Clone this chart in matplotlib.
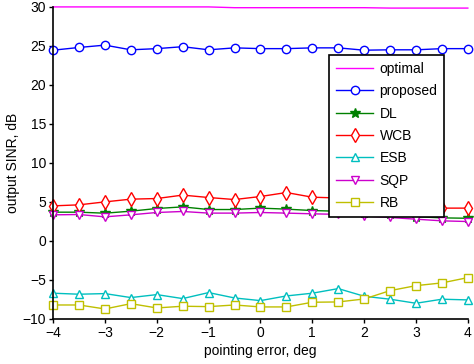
import numpy as np
import matplotlib
matplotlib.use("Agg")
import matplotlib.pyplot as plt

plt.rcParams['font.family'] = ['Liberation Sans', 'DejaVu Sans']

# pointing error, deg
err = [-4, -3.5, -3, -2.5, -2, -1.5, -1, -0.5, 0, 0.5, 1, 1.5, 2, 2.5, 3, 3.5, 4]

optimal = [30.0, 30.0, 30.0, 30.0, 30.0, 30.0, 30.0, 29.9, 29.9, 29.9, 29.9, 29.9, 29.9, 29.85, 29.85, 29.85, 29.85]
proposed = [24.45, 24.8, 25.1, 24.5, 24.65, 24.9, 24.5, 24.75, 24.65, 24.65, 24.75, 24.75, 24.45, 24.5, 24.5, 24.65, 24.65]
dl = [3.68, 3.68, 3.55, 3.81, 4.15, 4.36, 4.02, 4.02, 4.2, 4.07, 3.89, 3.8, 3.6, 3.4, 3.1, 2.95, 2.9]
wcb = [4.49, 4.62, 5.0, 5.35, 5.43, 5.87, 5.56, 5.3, 5.69, 6.2, 5.6, 5.5, 5.3, 4.9, 4.5, 4.2, 4.2]
esb = [-6.71, -6.84, -6.76, -7.27, -6.89, -7.4, -6.63, -7.32, -7.66, -7.06, -6.71, -6.12, -7.1, -7.48, -8.0, -7.48, -7.57]
sqp = [3.34, 3.38, 3.08, 3.34, 3.64, 3.77, 3.56, 3.56, 3.64, 3.56, 3.47, 3.4, 3.2, 3.0, 2.78, 2.57, 2.48]
rb = [-8.22, -8.22, -8.73, -8.05, -8.6, -8.38, -8.43, -8.22, -8.47, -8.47, -7.87, -7.83, -7.45, -6.38, -5.74, -5.39, -4.71]

fig = plt.figure(figsize=(4.74, 3.64), dpi=100)
ax = fig.add_axes([0.112, 0.124, 0.875, 0.857])

lw = 1.0
ms = 6
kw = dict(lw=lw, mew=1.0, clip_on=False)
ax.plot(err, optimal, color='#ff00ff', label='optimal', **kw)
ax.plot(err, proposed, color='#0000ff', marker='o', ms=ms, mfc='white', label='proposed', **kw)
ax.plot(err, dl, color='#008000', marker='*', ms=ms + 1, label='DL', **kw)
ax.plot(err, wcb, color='#ff0000', marker='d', ms=ms + 1, mfc='white', label='WCB', **kw)
ax.plot(err, esb, color='#00bfbf', marker='^', ms=ms, mfc='white', label='ESB', **kw)
ax.plot(err, sqp, color='#cc00cc', marker='v', ms=ms, mfc='white', label='SQP', **kw)
ax.plot(err, rb, color='#bfbf00', marker='s', ms=ms, mfc='white', label='RB', **kw)

ax.set_xlim(-4, 4)
ax.set_ylim(-10, 30)
ax.set_xticks(np.arange(-4, 5, 1))
ax.set_yticks(np.arange(-10, 31, 5))
ax.set_xticklabels([str(v).replace('-', '\u2212') for v in range(-4, 5)])
ax.set_yticklabels([str(v).replace('-', '\u2212') for v in range(-10, 31, 5)])
ax.tick_params(labelsize=10, length=3, width=1, direction='out', pad=2)
for s in ['top', 'right']:
    ax.spines[s].set_visible(False)
for s in ['left', 'bottom']:
    ax.spines[s].set_linewidth(1.2)
ax.set_xlabel('pointing error, deg', fontsize=10, labelpad=3)
ax.set_ylabel('output SINR, dB', fontsize=10, labelpad=2)

leg = ax.legend(loc='upper left', bbox_to_anchor=(0.665, 0.846), fontsize=10,
                frameon=True, fancybox=False, edgecolor='black', framealpha=1,
                handlelength=2.7, handletextpad=0.45, labelspacing=0.6,
                borderpad=0.5, borderaxespad=0)
leg.get_frame().set_linewidth(1.2)
leg.set_zorder(5)

fig.savefig('out.png', dpi=100)
